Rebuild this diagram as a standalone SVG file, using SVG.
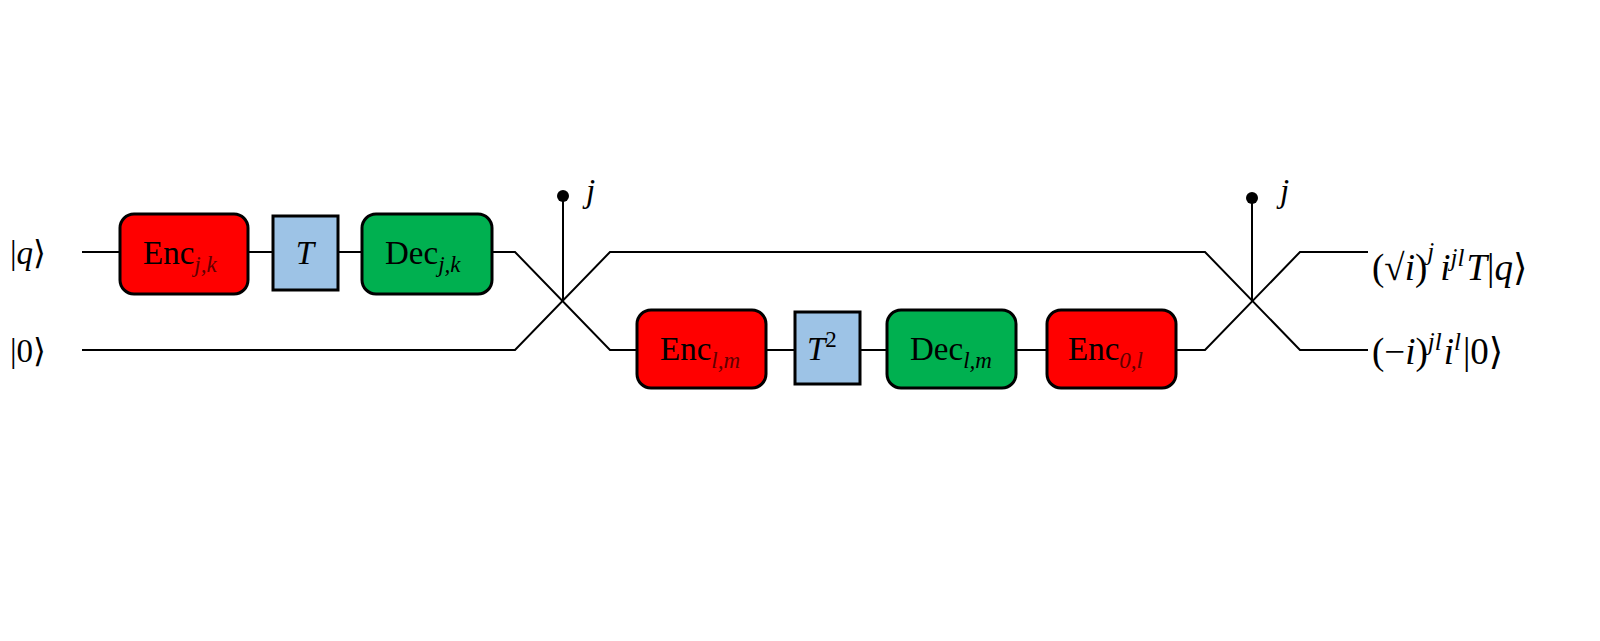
<svg xmlns="http://www.w3.org/2000/svg" width="1600" height="641" viewBox="0 0 1600 641">
<style>
.w{fill:none;stroke:#000;stroke-width:2}
.b{stroke:#000;stroke-width:3}
.red{fill:#ff0000}.grn{fill:#00b050}.blu{fill:#9dc3e6}
text{font-family:"Liberation Serif","DejaVu Serif",serif;font-size:33px;fill:#000}
.o{font-size:37px}
.i{font-style:italic}
.s{font-size:23px;font-style:italic}
.so{font-size:25px;font-style:italic}
.r{fill:#600000}
</style>
<rect width="1600" height="641" fill="#fff"/>
<g id="connectors">
<path class="w" d="M82 252H120M248 252H273M338 252H362M492 252H515L610 350H637M766 350H795M860 350H887M1016 350H1047M1176 350H1205L1300 252H1368"/>
<path class="w" d="M82 350H515L610 252H1205L1300 350H1368"/>
<path class="w" d="M563 196V300M1252 198V300"/>
<circle cx="563" cy="196" r="6"/>
<circle cx="1252" cy="198" r="6"/>
</g>
<g id="n-q"><text x="10" y="264">|<tspan class="i">q</tspan>⟩</text></g>
<g id="n-0"><text x="10" y="362">|0⟩</text></g>
<g id="encjk"><rect class="b red" x="120" y="214" width="128" height="80" rx="14"/><text x="143" y="264">Enc<tspan class="s r" dy="8">j,k</tspan></text></g>
<g id="t1"><rect class="b blu" x="273" y="216" width="65" height="74"/><text class="i" x="305" y="264" text-anchor="middle">T</text></g>
<g id="decjk"><rect class="b grn" x="362" y="214" width="130" height="80" rx="14"/><text x="385" y="264">Dec<tspan class="s" dy="8">j,k</tspan></text></g>
<g id="j1"><text class="i" x="586" y="202">j</text></g>
<g id="enclm"><rect class="b red" x="637" y="310" width="129" height="78" rx="14"/><text x="660" y="360">Enc<tspan class="s r" dy="8">l,m</tspan></text></g>
<g id="t2"><rect class="b blu" x="795" y="312" width="65" height="72"/><text x="807" y="360"><tspan class="i">T</tspan><tspan font-size="23" dy="-13">2</tspan></text></g>
<g id="declm"><rect class="b grn" x="887" y="310" width="129" height="78" rx="14"/><text x="910" y="360">Dec<tspan class="s" dy="8">l,m</tspan></text></g>
<g id="enc0l"><rect class="b red" x="1047" y="310" width="129" height="78" rx="14"/><text x="1068" y="360">Enc<tspan class="s r" dy="8">0,l</tspan></text></g>
<g id="j2"><text class="i" x="1280" y="202">j</text></g>
<g id="out1"><text class="o" x="1372" y="280">(√<tspan class="i">i</tspan>)<tspan class="so" dy="-20">j</tspan><tspan class="i" dx="6" dy="20">i</tspan><tspan class="so" dy="-14">jl</tspan><tspan class="i" dx="2" dy="14">T</tspan>|<tspan class="i">q</tspan>⟩</text></g>
<g id="out2"><text class="o" x="1372" y="364">(−<tspan class="i">i</tspan>)<tspan class="so" dy="-14">jl</tspan><tspan class="i" dx="2" dy="14">i</tspan><tspan class="so" dy="-14">l</tspan><tspan dx="2" dy="14">|0⟩</tspan></text></g>
</svg>
